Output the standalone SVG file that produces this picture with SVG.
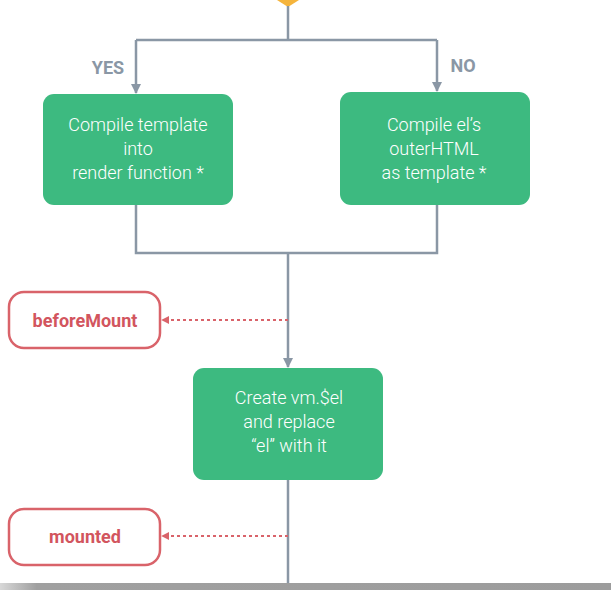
<svg xmlns="http://www.w3.org/2000/svg" width="611" height="590" viewBox="0 0 611 590">
  <defs>
    <marker id="arrowGray" viewBox="0 0 10 10" refX="9" refY="5" markerWidth="4" markerHeight="4" orient="auto" markerUnits="strokeWidth">
      <path d="M0,0 L10,5 L0,10 z" fill="#8a97a5"/>
    </marker>
    <marker id="arrowRed" viewBox="0 0 10 10" refX="9" refY="5" markerWidth="4" markerHeight="4" orient="auto" markerUnits="strokeWidth">
      <path d="M0,0 L10,5 L0,10 z" fill="#d9636a"/>
    </marker>
    <linearGradient id="barGrad" x1="0" y1="0" x2="1" y2="0">
      <stop offset="0" stop-color="#d8d8d8"/>
      <stop offset="0.06" stop-color="#a0a0a0"/>
      <stop offset="1" stop-color="#9c9c9c"/>
    </linearGradient>
  </defs>
  <style>
    .flow { fill: none; stroke: #8a97a5; stroke-width: 2.5; }
    .hook { fill: none; stroke: #d9636a; stroke-width: 2; stroke-dasharray: 3 3; }
    .green { fill: #3dba80; }
    .gtext { font-family: Roboto, Lato, "Liberation Sans", sans-serif; font-weight: 300; font-size: 18px; fill: #ffffff; text-anchor: middle; }
    .label { font-family: Roboto, "Liberation Sans", sans-serif; font-weight: bold; font-size: 18px; fill: #8a97a5; text-anchor: middle; }
    .hookbox { fill: #ffffff; stroke: #d9636a; stroke-width: 2.5; }
    .htext { font-family: Roboto, "Liberation Sans", sans-serif; font-weight: bold; font-size: 18px; fill: #d2555e; text-anchor: middle; }
  </style>
  <rect width="611" height="590" fill="#ffffff"/>

  <g id="decision">
    <path d="M277,0 L299,0 L288,7 z" fill="#f5b43c"/>
  </g>

  <g id="connectors">
    <path class="flow" d="M288,6 V40"/>
    <path class="flow" d="M136,40 H437"/>
    <path class="flow" d="M136,40 V93" marker-end="url(#arrowGray)"/>
    <path class="flow" d="M437,40 V91" marker-end="url(#arrowGray)"/>
    <path class="flow" d="M136,205 V253 H437 V205"/>
    <path class="flow" d="M288,253 V367" marker-end="url(#arrowGray)"/>
    <path class="flow" d="M288,480 V584"/>
    <path class="hook" d="M288,320 H162" marker-end="url(#arrowRed)"/>
    <path class="hook" d="M288,536 H162" marker-end="url(#arrowRed)"/>
  </g>

  <g id="label-yes"><text class="label" x="108" y="74">YES</text></g>
  <g id="label-no"><text class="label" x="463" y="72">NO</text></g>

  <g id="compile-template">
    <rect class="green" x="43" y="94" width="190" height="111" rx="11"/>
    <text class="gtext" x="138" y="131">Compile template</text>
    <text class="gtext" x="138" y="155">into</text>
    <text class="gtext" x="138" y="179">render function *</text>
  </g>

  <g id="compile-el">
    <rect class="green" x="340" y="92" width="190" height="113" rx="11"/>
    <text class="gtext" x="434" y="131">Compile el’s</text>
    <text class="gtext" x="434" y="155">outerHTML</text>
    <text class="gtext" x="434" y="179">as template *</text>
  </g>

  <g id="beforeMount">
    <rect class="hookbox" x="9" y="292" width="151" height="56" rx="15"/>
    <text class="htext" x="85" y="327">beforeMount</text>
  </g>

  <g id="create-el">
    <rect class="green" x="193" y="368" width="190" height="112" rx="11"/>
    <text class="gtext" x="289" y="404">Create vm.$el</text>
    <text class="gtext" x="289" y="428">and replace</text>
    <text class="gtext" x="289" y="452">“el” with it</text>
  </g>

  <g id="mounted">
    <rect class="hookbox" x="9" y="509" width="151" height="56" rx="15"/>
    <text class="htext" x="85" y="543">mounted</text>
  </g>

  <rect x="0" y="583" width="611" height="7" fill="url(#barGrad)"/>
</svg>
